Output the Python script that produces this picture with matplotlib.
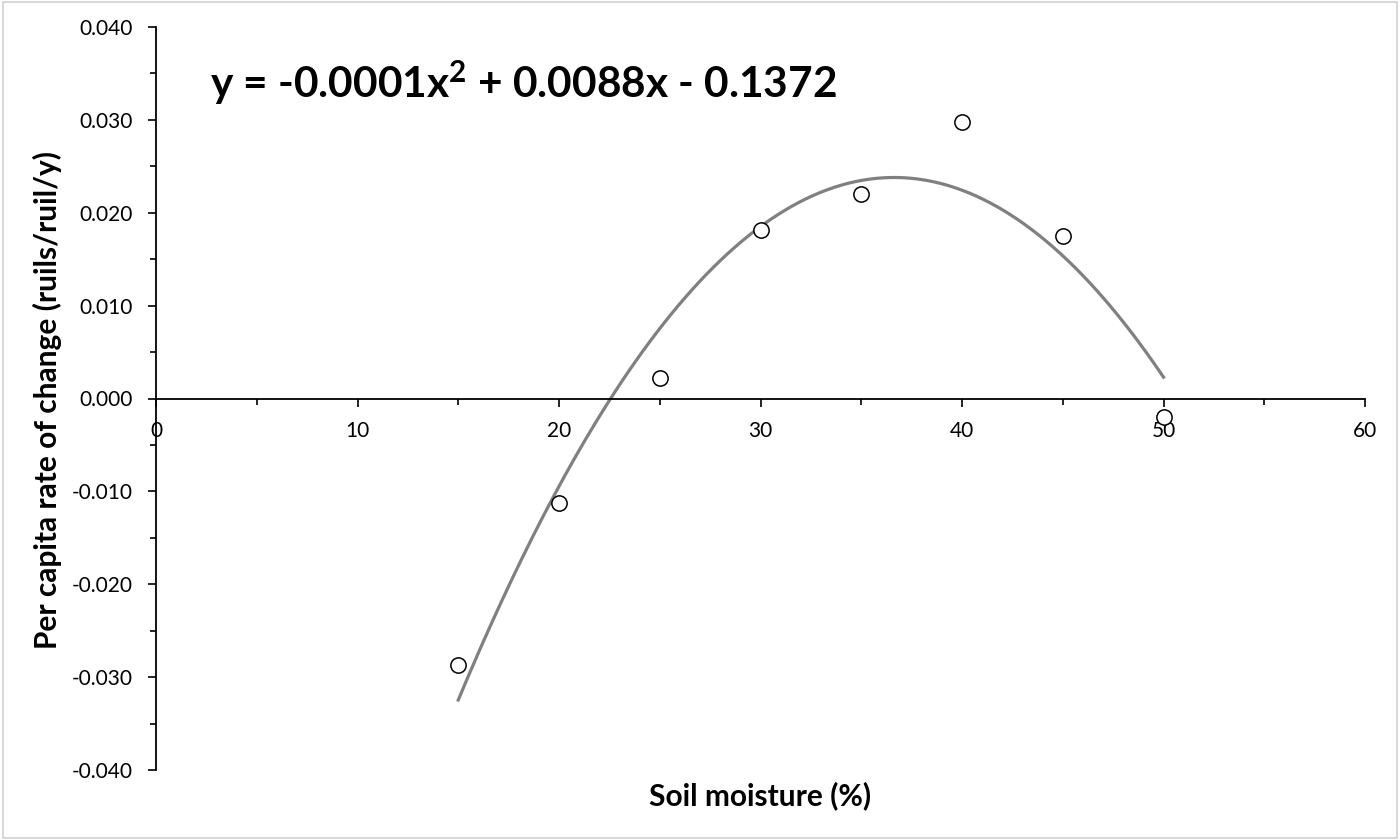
import numpy as np
import matplotlib
matplotlib.use("Agg")
import matplotlib.pyplot as plt
from matplotlib.ticker import MultipleLocator, FormatStrFormatter
from matplotlib.patches import Rectangle

plt.rcParams['font.family'] = ['Lato', 'DejaVu Sans']
plt.rcParams['mathtext.fontset'] = 'custom'
plt.rcParams['mathtext.rm'] = 'Lato:bold'
plt.rcParams['mathtext.it'] = 'Lato:bold'
plt.rcParams['mathtext.bf'] = 'Lato:bold'

# soil moisture (%) vs per capita rate of change
moisture = [15, 20, 25, 30, 35, 40, 45, 50]
rate = [-0.0287, -0.0112, 0.0022, 0.0181, 0.0220, 0.0298, 0.0175, -0.0020]
equation = "y = -0.0001x$^{2}$ + 0.0088x - 0.1372"

fig = plt.figure(figsize=(14, 8.4), dpi=100)
ax = fig.add_axes([156/1400, 1 - 770/840, (1365-156)/1400, (770-27)/840])

# quadratic trendline (least squares, like Excel)
coef = np.polyfit(moisture, rate, 2)
xs = np.linspace(min(moisture), max(moisture), 200)
ax.plot(xs, np.polyval(coef, xs), color='#808080', lw=2.3, zorder=2)

ax.plot(moisture, rate, 'o', ms=11, mfc='white', mec='black', mew=1.1,
        zorder=3, clip_on=False)

ax.set_xlim(0, 60)
ax.set_ylim(-0.04, 0.04)
ax.spines['left'].set_position(('data', 0))
ax.spines['bottom'].set_position(('data', 0))
ax.spines['top'].set_visible(False)
ax.spines['right'].set_visible(False)
for s in ('left', 'bottom'):
    ax.spines[s].set_linewidth(1.3)

ax.xaxis.set_major_locator(MultipleLocator(10))
ax.xaxis.set_minor_locator(MultipleLocator(5))
ax.yaxis.set_major_locator(MultipleLocator(0.01))
ax.yaxis.set_minor_locator(MultipleLocator(0.005))
ax.yaxis.set_major_formatter(FormatStrFormatter('%.3f'))
ax.tick_params(which='both', direction='out', width=1.2, colors='black',
               labelsize=15)
ax.tick_params(which='major', length=6)
ax.tick_params(which='minor', length=4)
ax.tick_params(axis='x', pad=10)
ax.tick_params(axis='y', pad=11)

ax.text(0.045, 0.925, equation, transform=ax.transAxes, fontsize=30.5,
        fontweight='bold', va='center', ha='left')

fig.text(760/1400, 1 - 796/840, "Soil moisture (%)", fontsize=21.5,
         fontweight='bold', ha='center', va='center')
fig.text(47/1400, 1 - 400/840, "Per capita rate of change (ruils/ruil/y)",
         fontsize=21.5, fontweight='bold', rotation=90, ha='center', va='center')

fig.patches.append(Rectangle((0.002, 0.002), 0.996, 0.996, transform=fig.transFigure,
                             fill=False, edgecolor='#d9d9d9', lw=1.5))

fig.savefig("out.png", dpi=100)
